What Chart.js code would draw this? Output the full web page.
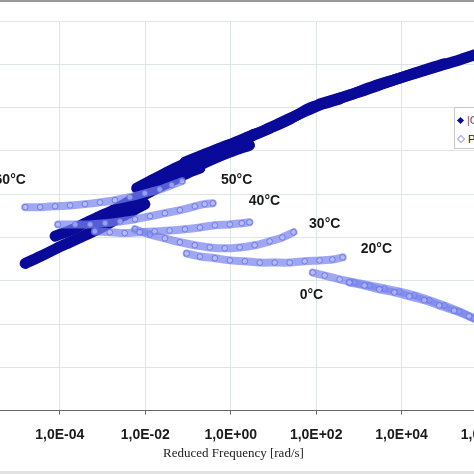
<!DOCTYPE html>
<html>
<head>
<meta charset="utf-8">
<script src="https://cdn.jsdelivr.net/npm/chart.js@4.4.1/dist/chart.umd.min.js"></script>
<style>
    html, body { margin: 0; padding: 0; background: #fff; }
    #wrap { position: relative; width: 474px; height: 474px; overflow: hidden; background: #fff; }
    #box { position: absolute; left: -71px; top: 0; width: 609px; height: 474px; }
    #topband { position: absolute; left: 0; top: 0; width: 474px; height: 2px; background: #9a9a9a; }
    #botband { position: absolute; left: 0; bottom: 0; width: 474px; height: 3px; background: #e2e2e2; }
    #legend { position: absolute; left: 454px; top: 107px; width: 60px; height: 40px; background: #fff;
              border: 1px solid #c8c8c8; font: 11px "Liberation Sans", Arial, sans-serif; }
    #legend div { position: absolute; left: 0; height: 14px; line-height: 14px; white-space: nowrap; }
    #legend span.mk { display: inline-block; width: 5px; height: 5px; transform: rotate(45deg); margin: 0 4px 1px 3px; }
</style>
</head>
<body>
<div id="wrap">
    <div id="box"><canvas id="masterChart"></canvas></div>
    <div id="legend">
        <div style="top:5px;color:#555"><span class="mk" style="background:#0a0a9a"></span>|G*|</div>
        <div style="top:24px;color:#222"><span class="mk" style="border:1px solid #9aa3e8;width:4px;height:4px"></span>Phase angle</div>
    </div>
    <div id="topband"></div>
    <div id="botband"></div>
</div>
<script>
// log10 of reduced frequency [rad/s] and log10 |G*| [Pa], per test temperature
const g60Freq = [-4.81, -4.46, -4.11, -3.76, -3.41, -3.06, -2.71, -2.36, -2.01];
const g60Mod  = [3.40, 3.56, 3.73, 3.89, 4.05, 4.21, 4.40, 4.58, 4.77];
const g50Freq = [-4.11, -3.76, -3.41, -3.06, -2.71, -2.36, -2.01, -1.66, -1.31, -0.96, -0.72];
const g50Mod  = [4.03, 4.16, 4.33, 4.49, 4.65, 4.84, 5.02, 5.18, 5.34, 5.51, 5.60];
const g40Freq = [-3.18, -2.83, -2.48, -2.13, -1.78, -1.43, -1.07, -0.72, -0.37, -0.02, 0.44];
const g40Mod  = [4.40, 4.56, 4.74, 4.93, 5.11, 5.30, 5.48, 5.67, 5.83, 5.97, 6.13];
const g30Freq = [-2.20, -1.89, -1.54, -1.19, -0.84, -0.49, -0.14, 0.21, 0.56];
const g30Mod  = [5.14, 5.30, 5.48, 5.65, 5.78, 5.92, 6.09, 6.22, 6.39];
const g20Freq = [-1.07, -0.72, -0.37, -0.02, 0.33, 0.68, 1.14, 1.61, 2.08, 2.55];
const g20Mod  = [5.74, 5.88, 6.02, 6.15, 6.29, 6.43, 6.64, 6.85, 7.06, 7.20];
const g10Freq = [0.44, 0.91, 1.38, 1.85, 2.31, 2.78, 3.36, 3.95, 4.53, 5.00];
const g10Mod  = [6.32, 6.52, 6.73, 6.99, 7.13, 7.29, 7.50, 7.68, 7.87, 8.01];
const g0Freq  = [2.08, 2.55, 3.01, 3.48, 3.95, 4.42, 4.88, 5.35, 5.68, 6.05];
const g0Mod   = [7.08, 7.22, 7.36, 7.52, 7.68, 7.82, 7.96, 8.10, 8.21, 8.33];

// phase angle [deg] against log10 reduced frequency
const p60Freq = [-4.81, -4.46, -4.11, -3.76, -3.41, -3.06, -2.71, -2.36, -2.01, -1.66, -1.38, -1.14];
const p60Deg  = [47.0, 47.0, 47.2, 47.4, 47.7, 48.1, 48.6, 49.3, 50.2, 51.1, 52.1, 53.0];
const p50Freq = [-4.04, -3.64, -3.29, -2.94, -2.59, -2.24, -1.89, -1.54, -1.19, -0.84, -0.61, -0.42];
const p50Deg  = [43.0, 43.0, 43.0, 43.3, 43.7, 44.2, 44.9, 45.6, 46.3, 47.2, 47.7, 47.9];
const p40Freq = [-3.18, -2.83, -2.48, -2.13, -1.78, -1.43, -1.07, -0.72, -0.37, -0.02, 0.26, 0.44];
const p40Deg  = [41.4, 41.2, 41.0, 41.2, 41.4, 41.6, 41.9, 42.3, 42.8, 43.0, 43.3, 43.5];
const p30Freq = [-2.24, -1.89, -1.54, -1.19, -0.84, -0.49, -0.14, 0.21, 0.56, 0.91, 1.21, 1.47];
const p30Deg  = [41.9, 40.7, 39.8, 38.9, 38.2, 37.7, 37.5, 37.7, 38.2, 39.1, 40.0, 41.2];
const p20Freq = [-1.03, -0.72, -0.37, -0.02, 0.33, 0.68, 1.03, 1.38, 1.73, 2.08, 2.38, 2.62];
const p20Deg  = [36.3, 35.6, 35.2, 34.7, 34.5, 34.2, 34.2, 34.2, 34.5, 34.7, 34.9, 35.4];
const p10Freq = [2.78, 3.13, 3.48, 3.83, 4.18, 4.53, 4.88, 5.23, 5.58, 5.93];
const p10Deg  = [29.6, 28.9, 28.0, 27.3, 26.4, 25.5, 24.3, 23.1, 21.8, 20.4];
const p0Freq  = [1.92, 2.20, 2.55, 2.90, 3.25, 3.60, 3.95, 4.30, 4.65, 5.00, 5.35, 5.68];
const p0Deg   = [31.9, 31.2, 30.3, 29.6, 28.9, 28.2, 27.5, 26.6, 25.5, 24.3, 22.9, 21.3];

// x tick positions (log10 of frequency)
const freqTicks = [-6, -4, -2, 0, 2, 4, 6];

// temperature annotations, placed in data units (log10 freq, phase deg)
const tempLabels = ['60°C', '50°C', '40°C', '30°C', '20°C', '0°C'];
const labelFreq  = [-5.16, 0.14, 0.79, 2.20, 3.41, 1.89];
const labelDeg   = [53.2, 53.2, 48.4, 43.0, 37.3, 26.6];

function pairs(xs, ys) {
    return xs.map((x, i) => ({ x: x, y: ys[i] }));
}

function modulusSet(xs, ys) {
    return {
        data: pairs(xs, ys),
        yAxisID: 'y',
        showLine: true,
        tension: 0.3,
        borderColor: '#0a0a9a',
        borderWidth: 11,
        borderCapStyle: 'round',
        pointStyle: 'rectRot',
        pointRadius: 3,
        pointBorderWidth: 0,
        pointBackgroundColor: '#0a0a9a',
        order: 2
    };
}

function phaseSet(xs, ys) {
    return {
        data: pairs(xs, ys),
        yAxisID: 'y1',
        showLine: true,
        tension: 0.3,
        borderColor: 'rgba(118, 130, 236, 0.7)',
        borderWidth: 8,
        borderCapStyle: 'round',
        pointStyle: 'circle',
        pointRadius: 2.8,
        pointBorderWidth: 1,
        pointBackgroundColor: 'rgba(196, 203, 252, 0.6)',
        pointBorderColor: 'rgba(98, 108, 226, 0.8)',
        order: 1
    };
}

function formatFreq(v) {
    const sign = v < 0 ? '-' : '+';
    return '1,0E' + sign + String(Math.abs(v)).padStart(2, '0');
}

// draws the temperature labels next to the curves
const tempLabelPlugin = {
    id: 'tempLabels',
    afterDatasetsDraw(chart) {
        const ctx = chart.ctx;
        const xs = chart.scales.x;
        const ys = chart.scales.y1;
        ctx.save();
        ctx.font = 'bold 14px "Liberation Sans", Arial, sans-serif';
        ctx.fillStyle = '#1a1a1a';
        ctx.textAlign = 'center';
        ctx.textBaseline = 'middle';
        tempLabels.forEach((t, i) => {
            ctx.fillText(t, xs.getPixelForValue(labelFreq[i]), ys.getPixelForValue(labelDeg[i]));
        });
        ctx.restore();
    }
};

const datasets = [
    phaseSet(p60Freq, p60Deg),
    phaseSet(p50Freq, p50Deg),
    phaseSet(p40Freq, p40Deg),
    phaseSet(p30Freq, p30Deg),
    phaseSet(p20Freq, p20Deg),
    phaseSet(p10Freq, p10Deg),
    phaseSet(p0Freq, p0Deg),
    modulusSet(g60Freq, g60Mod),
    modulusSet(g50Freq, g50Mod),
    modulusSet(g40Freq, g40Mod),
    modulusSet(g30Freq, g30Mod),
    modulusSet(g20Freq, g20Mod),
    modulusSet(g10Freq, g10Mod),
    modulusSet(g0Freq, g0Mod)
];

const ctx = document.getElementById('masterChart').getContext('2d');
new Chart(ctx, {
    type: 'scatter',
    data: { datasets: datasets },
    options: {
        responsive: true,
        maintainAspectRatio: false,
        animation: false,
        layout: { padding: { top: 21, bottom: 13, left: 0, right: 0 } },
        plugins: {
            legend: { display: false },
            tooltip: { enabled: false }
        },
        scales: {
            x: {
                type: 'linear',
                min: -6.944,
                max: 7.075,
                afterBuildTicks: (scale) => {
                    scale.ticks = freqTicks.map(v => ({ value: v }));
                },
                grid: { color: '#dde5e5', tickColor: '#666', tickLength: 4 },
                border: { display: true, color: '#666', width: 1 },
                ticks: {
                    padding: 12,
                    maxRotation: 0,
                    autoSkip: false,
                    color: '#1a1a1a',
                    font: { family: '"Liberation Sans", Arial, sans-serif', size: 14, weight: 'bold' },
                    callback: (v) => formatFreq(v)
                },
                title: {
                    display: true,
                    text: 'Reduced Frequency [rad/s]',
                    color: '#222',
                    padding: { top: -10, bottom: 0 },
                    font: { family: '"Liberation Serif", "Times New Roman", serif', size: 13 }
                }
            },
            y: {
                type: 'linear',
                position: 'left',
                min: 0,
                max: 9,
                ticks: { display: false, stepSize: 1 },
                grid: { color: '#dde5e5', drawTicks: false },
                border: { display: false }
            },
            y1: {
                type: 'linear',
                position: 'right',
                min: 0,
                max: 90,
                display: false
            }
        }
    },
    plugins: [tempLabelPlugin]
});
</script>
</body>
</html>
